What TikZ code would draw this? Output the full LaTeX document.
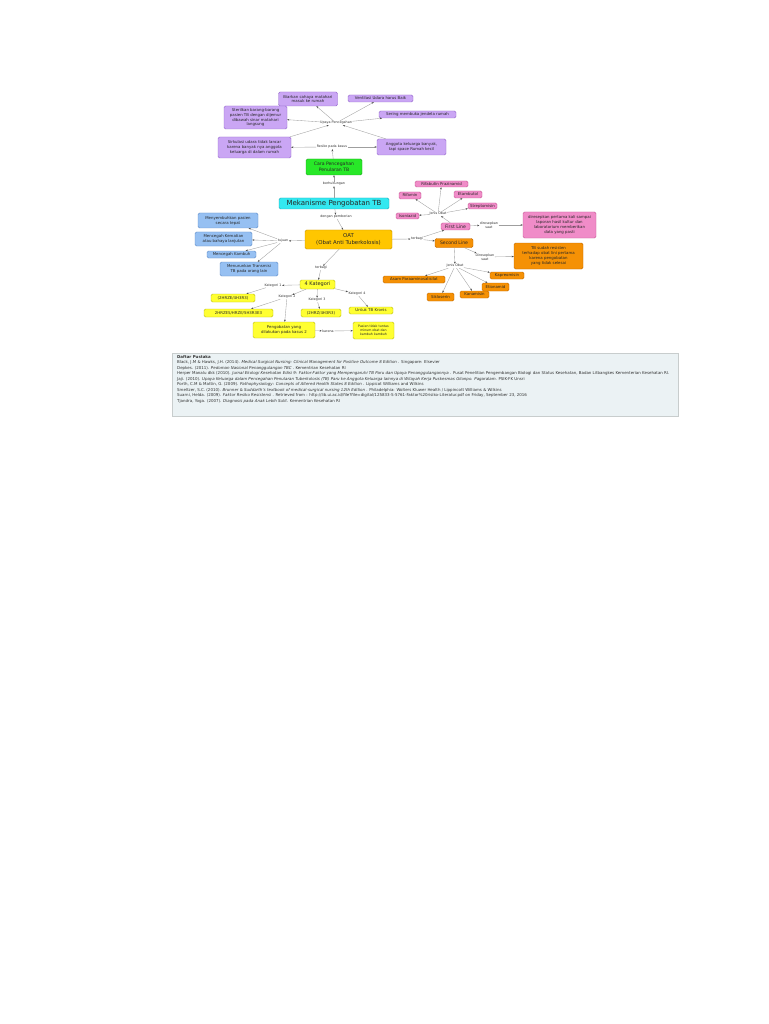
\documentclass[tikz,border=0pt]{standalone}
\usepackage{fontspec}
\setmainfont{DejaVu Sans}
\usetikzlibrary{arrows.meta}
\definecolor{purf}{RGB}{202,166,244}
\definecolor{purd}{RGB}{150,105,205}
\definecolor{grnf}{RGB}{40,232,40}
\definecolor{grnd}{RGB}{30,160,30}
\definecolor{cyaf}{RGB}{50,232,240}
\definecolor{cyad}{RGB}{30,170,185}
\definecolor{golf}{RGB}{255,198,0}
\definecolor{gold}{RGB}{200,150,0}
\definecolor{bluf}{RGB}{150,192,242}
\definecolor{blud}{RGB}{95,140,200}
\definecolor{yelf}{RGB}{255,255,50}
\definecolor{yeld}{RGB}{190,190,20}
\definecolor{pnkf}{RGB}{240,140,200}
\definecolor{pnkd}{RGB}{200,90,150}
\definecolor{orgf}{RGB}{245,145,5}
\definecolor{orgd}{RGB}{195,105,0}
\definecolor{reff}{RGB}{235,242,244}
\definecolor{refd}{RGB}{200,205,205}
\begin{document}
\begin{tikzpicture}[x=1pt,y=-1pt,
  concept/.style={draw, rounded corners=1.5pt, line width=0.4pt, align=center,
    inner sep=0.6pt, font=\fontsize{3.9}{4.9}\selectfont, text=black!85},
  purp/.style={concept, fill=purf, draw=purd},
  grn/.style={concept, fill=grnf, draw=grnd, font=\fontsize{4.6}{5.6}\selectfont},
  cya/.style={concept, fill=cyaf, draw=cyad, font=\fontsize{7}{8}\selectfont},
  gol/.style={concept, fill=golf, draw=gold, font=\fontsize{5.4}{6.4}\selectfont},
  blu/.style={concept, fill=bluf, draw=blud},
  yel/.style={concept, fill=yelf, draw=yeld},
  pnk/.style={concept, fill=pnkf, draw=pnkd},
  org/.style={concept, fill=orgf, draw=orgd},
  lk/.style={font=\fontsize{3.3}{3.9}\selectfont, fill=white, inner sep=0.4pt, align=center, text=black!80},
  con/.style={draw=gray!75, line width=0.35pt, -{Stealth[length=2.2pt,width=1.7pt,color=black!70]}}
]
\useasboundingbox[fill=white] (0,0) rectangle (768,1024);

% purple
\node[purp, minimum width=59pt, minimum height=14pt] (p1) at (308,99) {Biarkan cahaya matahari\\masuk ke rumah};
\node[purp, minimum width=65pt, minimum height=7pt] (p2) at (380.5,98.5) {Ventilasi Udara harus Baik};
\node[purp, minimum width=63pt, minimum height=23pt] (p3) at (255.5,117.5) {Sterilkan barang-barang\\pasien TB dengan dijemur\\dibawah sinar matahari\\langsung};
\node[purp, minimum width=77pt, minimum height=7pt] (p4) at (417.5,114.5) {Sering membuka jendela rumah};
\node[purp, minimum width=73pt, minimum height=21pt] (p5) at (254.5,147.5) {Sirkulasi udara tidak lancar\\karena banyak nya anggota\\keluarga di dalam rumah};
\node[purp, minimum width=69pt, minimum height=16pt] (p6) at (411.5,147) {Anggota keluarga banyak,\\tapi space Rumah kecil};
\node[lk] (lupaya) at (336,123) {Upaya Pencegahan};
\node[lk] (lresiko) at (332,147) {Resiko pada kasus};

\node[grn, minimum width=56pt, minimum height=16pt] (cara) at (334,167) {Cara Pencegahan\\Penularan TB};
\node[lk] (lberh) at (334,184) {berhubungan};
\node[cya, minimum width=110pt, minimum height=11pt] (mek) at (334,203.5) {Mekanisme Pengobatan TB};
\node[lk] (ldengan) at (336,217) {dengan pemberian};
\node[gol, minimum width=87pt, minimum height=19pt] (oat) at (348.5,239.5) {OAT\\(Obat Anti Tuberkolosis)};

% blue
\node[lk] (ltujuan) at (283,241) {tujuan};
\node[blu, minimum width=60pt, minimum height=15pt] (b1) at (228,220.5) {Menyembuhkan pasien\\secara tepat};
\node[blu, minimum width=57pt, minimum height=14pt] (b2) at (223.5,239) {Mencegah Kematian\\atau bahaya lanjutan};
\node[blu, minimum width=49pt, minimum height=7pt] (b3) at (231.5,254.5) {Mencegah Kambuh};
\node[blu, minimum width=58pt, minimum height=14pt] (b4) at (249,269) {Menurunkan Transmisi\\TB pada orang lain};

% yellow
\node[lk] (lterbagi1) at (321,268) {terbagi};
\node[yel, minimum width=35pt, minimum height=9pt, font=\fontsize{5}{6}\selectfont] (k4) at (317.5,284.5) {4 Kategori};
\node[lk] (lk1) at (273,285.5) {Kategori 1};
\node[lk] (lk2) at (287,297) {Kategori 2};
\node[lk] (lk3) at (317,300) {Kategori 3};
\node[lk] (lk4) at (357,294) {Kategori 4};
\node[yel, minimum width=44pt, minimum height=8pt] (y1) at (233,298) {(2HRZE/4H3R3)};
\node[yel, minimum width=69pt, minimum height=8pt] (y2) at (238.5,313) {2HRZES/HRZE/5H3R3E3};
\node[yel, minimum width=40pt, minimum height=8pt] (y3) at (321,313) {(2HRZ/4H3R3)};
\node[yel, minimum width=44pt, minimum height=7pt] (y4) at (371,310.5) {Untuk TB Kronis};
\node[yel, minimum width=62pt, minimum height=16pt] (y5) at (284,330) {Pengobatan yang\\dilakukan pada kasus 2};
\node[lk] (lkarena) at (328,331) {karena};
\node[yel, minimum width=41pt, minimum height=17pt, font=\fontsize{3.2}{4.2}\selectfont] (y6) at (373.5,330.5) {Pasien tidak tuntas\\minum obat dan\\kambuh kambuh};

% right side
\node[lk] (lterbagi2) at (417,239) {terbagi};
\node[pnk, minimum width=29pt, minimum height=7pt, font=\fontsize{4.6}{5.6}\selectfont] (fl) at (455.5,226.5) {First Line};
\node[org, minimum width=38pt, minimum height=9pt, font=\fontsize{4.6}{5.6}\selectfont] (sl) at (454,243) {Second Line};
\node[lk] (ljenis1) at (438,214) {Jenis Obat};
\node[pnk, minimum width=53pt, minimum height=6pt] (r1) at (441.5,184) {Rifabutin Prazinamid};
\node[pnk, minimum width=22pt, minimum height=7pt] (r2) at (410,195.5) {Rifamin};
\node[pnk, minimum width=28pt, minimum height=7pt] (r3) at (468,194.5) {Etambutol};
\node[pnk, minimum width=29pt, minimum height=6pt] (r4) at (482.5,206) {Streptomisin};
\node[pnk, minimum width=23pt, minimum height=6pt] (r5) at (407.5,216) {Isoniazid};
\node[lk] (ldires1) at (489,225) {diresepkan\\saat};
\node[pnk, minimum width=73pt, minimum height=26pt] (pk) at (559.5,225) {diresepkan pertama kali sampai\\laporan hasil kultur dan\\laboratorium memberikan\\data yang pasti};
\node[lk] (ldires2) at (485,257) {Diresepkan\\saat};
\node[org, minimum width=69pt, minimum height=26pt] (ob) at (548.5,256) {TB sudah resisten\\terhadap obat lini pertama\\karena pengobatan\\yang tidak selesai};
\node[lk] (ljenis2) at (455,266) {Jenis Obat};
\node[org, minimum width=62pt, minimum height=7pt] (o1) at (414,279.5) {Asam Paraaminosalisilat};
\node[org, minimum width=27pt, minimum height=8pt] (o2) at (440.5,297) {Sikloserin};
\node[org, minimum width=29pt, minimum height=7pt] (o3) at (474.5,294.5) {Kanamisin};
\node[org, minimum width=27pt, minimum height=8pt] (o4) at (495.5,287) {Etionamid};
\node[org, minimum width=34pt, minimum height=7pt] (o5) at (507,275.5) {Kapreomisin};

% connectors
\draw[con] (p5) -- (lupaya);
\draw[con] (p6) -- (lupaya);
\draw[con] (lupaya) -- (p1);
\draw[con] (lupaya) -- (p2);
\draw[con] (lupaya) -- (p3);
\draw[con] (lupaya) -- (p4);
\draw[con] (cara) -- (lresiko);
\draw[con] (lresiko) -- (p5);
\draw[con] (lresiko) -- (p6);
\draw[con] (mek) -- (lberh);
\draw[con] (lberh) -- (cara);
\draw[con] (mek) -- (ldengan);
\draw[con] (ldengan) -- (oat);
\draw[con] (oat) -- (ltujuan);
\draw[con] (ltujuan) -- (b1);
\draw[con] (ltujuan) -- (b2);
\draw[con] (ltujuan) -- (b3);
\draw[con] (ltujuan) -- (b4);
\draw[con] (oat) -- (lterbagi1);
\draw[con] (lterbagi1) -- (k4);
\draw[con] (k4) -- (lk1);
\draw[con] (lk1) -- (y1);
\draw[con] (k4) -- (lk2);
\draw[con] (lk2) -- (y2);
\draw[con] (lk2) -- (y5);
\draw[con] (k4) -- (lk3);
\draw[con] (lk3) -- (y3);
\draw[con] (k4) -- (lk4);
\draw[con] (lk4) -- (y4);
\draw[con] (y5) -- (lkarena);
\draw[con] (lkarena) -- (y6);
\draw[con] (oat) -- (lterbagi2);
\draw[con] (lterbagi2) -- (fl);
\draw[con] (lterbagi2) -- (sl);
\draw[con] (fl) -- (ljenis1);
\draw[con] (ljenis1) -- (r1);
\draw[con] (ljenis1) -- (r2);
\draw[con] (ljenis1) -- (r3);
\draw[con] (ljenis1) -- (r4);
\draw[con] (ljenis1) -- (r5);
\draw[con] (fl) -- (ldires1);
\draw[con] (ldires1) -- (pk);
\draw[con] (sl) -- (ldires2);
\draw[con] (ldires2) -- (ob);
\draw[con] (sl) -- (ljenis2);
\draw[con] (ljenis2) -- (o1);
\draw[con] (ljenis2) -- (o2);
\draw[con] (ljenis2) -- (o3);
\draw[con] (ljenis2) -- (o4);
\draw[con] (ljenis2) -- (o5);

% references
\node[draw=refd, fill=reff, line width=0.6pt, minimum width=506pt, minimum height=63pt, inner sep=0pt] (refbox) at (425,384.5) {};
\node[anchor=north west, inner sep=0pt, align=left, text=black!80, font=\fontsize{3.97}{5.5}\selectfont] (reftext) at (177,355) {%
\textbf{Daftar Pustaka}\\
Black, J.M \& Hawks, J.H. (2014). \textit{Medical Surgical Nursing: Clinical Management for Positive Outcome 8 Edition} . Singapore: Elsevier\\
Depkes. (2011). \textit{Pedoman Nasional Penanggulangan TBC} . Kementrian Kesehatan RI\\
Herper Manalu dkk (2010). \textit{Jurnal Ekologi Kesehatan Edisi 9: Faktor-Faktor yang Mempengaruhi TB Paru dan Upaya Penanggulangannya} . Pusat Penelitian Pengembangan Biologi dan Status Kesehatan, Badan Litbangkes Kementerian Kesehatan RI.\\
Jaji. (2010). \textit{Upaya Keluarga dalam Pencegahan Penularan Tuberkolosis (TB) Paru ke Anggota Keluarga lainnya di Wilayah Kerja Puskesmas Gilonpo. Pagaralam}. PSIK-FK Unsri\\
Porth, C.M \& Mattin, G. (2009). \textit{Pathophysiology: Concepts of Altered Health States 8 Edition} . Lippicot Williams and Wilkins\\
Smeltzer, S.C. (2010). \textit{Brunner \& Suddarth's textbook of medical-surgical nursing 12th Edition} . Philadelphia: Wolters Kluwer Health / Lippincott Williams \& Wilkins\\
Suarni, Helda. (2009). \textit{Faktor Resiko Resistensi} . Retrieved from : http://lib.ui.ac.id/file?file=digital/125833-S-5761-Faktor\%20risiko-Literatur.pdf on Friday, September 23, 2016\\
Tjandra, Yoga. (2007). \textit{Diagnosis pada Anak Lebih Sulit}. Kementrian Kesehatan RI};
\end{tikzpicture}
\end{document}
